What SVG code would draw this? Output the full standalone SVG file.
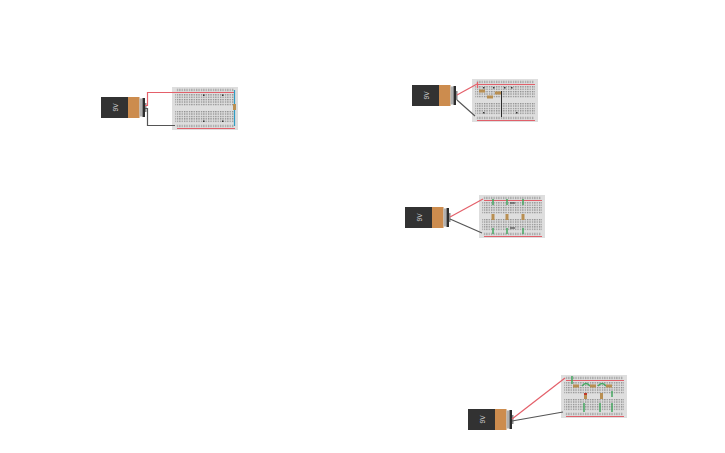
<svg xmlns="http://www.w3.org/2000/svg" width="725" height="453" viewBox="0 0 725 453">
<style>
.t{font:6.500px "Liberation Sans",Arial,sans-serif;fill:#cfcfcf}
.r{stroke:#e4606a;stroke-width:1.200;fill:none}
.k{stroke:#555;stroke-width:1.200;fill:none}
.g{stroke:#45a862;stroke-width:1.500;fill:none}
.b{stroke:#2c2c2c;stroke-width:1;fill:none}
.rail{stroke:#e0606a;stroke-width:1;fill:none}
.res{fill:#b98f52}
.d{fill:#333}
</style>
<defs>
<pattern id="h" width="2.4" height="2.4" patternUnits="userSpaceOnUse"><rect width="1.3" height="1.3" fill="#8a8a8a"/></pattern>
<g id="board">
<rect width="66" height="43" fill="#dedede"/>
<rect x="4" y="1.500" width="58" height="3.600" fill="url(#h)"/>
<rect x="3" y="7" width="60" height="12" fill="url(#h)"/>
<rect x="3" y="24" width="60" height="12" fill="url(#h)"/>
<rect x="4" y="37.500" width="58" height="3.600" fill="url(#h)"/>
<path class="rail" d="M5 5.500H63M5 41.500H63"/>
</g>
<g id="battery">
<rect width="27" height="21" fill="#323232"/>
<rect x="27" width="11.500" height="21" fill="#cc8c4e"/>
<rect x="38.500" y="1.500" width="3" height="18" fill="#b0b0b0"/>
<rect x="41.500" y="1" width="2.500" height="19" fill="#2c2c2c"/>
<rect x="44" y="6" width="1.500" height="9" fill="#888"/>
<text class="t" transform="translate(15 10.500) rotate(-90)" text-anchor="middle" dominant-baseline="middle">9V</text>
</g>
</defs>
<g id="board1"><use href="#board" x="172" y="87"/><path d="M234.500 90V126" stroke="#2f9cc4" stroke-width="1.200"/><rect class="res" x="233" y="104" width="3" height="6"/>
<path class="d" d="M203 94.500h1.500v1.500h-1.500zM222 94.500h1.500v1.500h-1.500zM203 120.500h1.500v1.500h-1.500zM222 120.500h1.500v1.500h-1.500z"/></g>
<g id="battery1"><use href="#battery" x="101" y="97"/></g>
<g id="board2"><use href="#board" x="472" y="79"/>
<path class="b" d="M501.500 91V117"/>
<path class="d" d="M483 87h1.500v1.500h-1.500zM493 87h1.500v1.500h-1.500zM504 87h1.500v1.500h-1.500zM511 87h1.500v1.500h-1.500zM483 112h1.500v1.500h-1.500zM516 112h1.500v1.500h-1.500z"/>
<rect class="res" x="479" y="89.500" width="6" height="3"/><rect class="res" x="487" y="95.500" width="6" height="3"/><rect class="res" x="495" y="91.500" width="6" height="3"/></g>
<g id="battery2"><use href="#battery" x="412" y="85"/></g>
<g id="board3"><use href="#board" x="479" y="195"/>
<path class="g" d="M493 199V205M507 199V205M523 199V205M493 228V234M507 228V234M523 228V234"/>
<path class="d" d="M510 202.500h5v1h-5zM510 227.500h5v1h-5z"/>
<rect class="res" x="491.500" y="214" width="3" height="6"/><rect class="res" x="505.500" y="214" width="3" height="6"/><rect class="res" x="521.500" y="214" width="3" height="6"/></g>
<g id="battery3"><use href="#battery" x="405" y="207"/></g>
<g id="board4"><use href="#board" x="561" y="375"/>
<path class="g" d="M572 376V384M582 386Q586 381 590 386M598 386Q602 381 606 386M612 391V397M584 403V412M600 403V412M612 403V412"/>
<rect class="res" x="573" y="384.500" width="6" height="3"/><rect class="res" x="590" y="384.500" width="6" height="3"/><rect class="res" x="606" y="384.500" width="6" height="3"/>
<rect class="res" x="584" y="393" width="3" height="6"/><rect x="584" y="393" width="3" height="2" fill="#c0392b"/><rect class="res" x="600" y="393" width="3" height="6"/></g>
<g id="battery4"><use href="#battery" x="468" y="409"/></g>
<g id="connectors">
<path class="r" d="M145 105.500H147.500V92.500H177"/><path class="k" d="M145 108.500H147.500V125.500H175"/>
<path class="r" d="M457 95L477 84"/><path class="k" d="M457 100L475 116"/><path class="r" d="M477.500 82V88"/>
<path class="r" d="M450 217L483 199"/><path class="k" d="M450 219L482 233"/>
<path class="r" d="M512 419L565 378"/><path class="k" d="M512 421L563 412"/>
</g>
</svg>
